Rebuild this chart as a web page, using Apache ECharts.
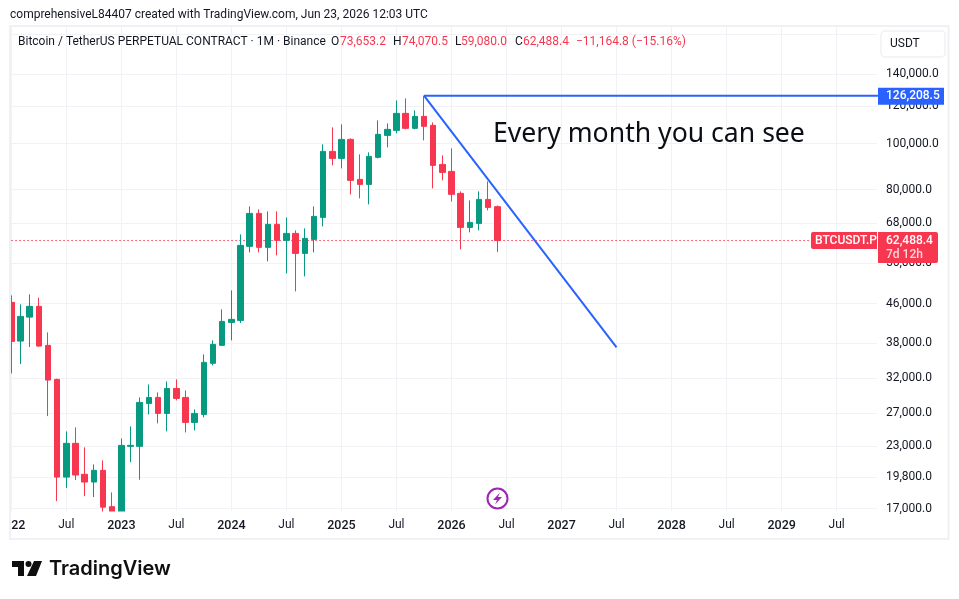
<!DOCTYPE html>
<html>
<head>
<meta charset="utf-8">
<script src="https://cdn.jsdelivr.net/npm/echarts@6/dist/echarts.min.js"></script>
<style>html,body{margin:0;padding:0;background:#fff}#c{width:959px;height:599px}</style>
</head>
<body>
<div id="c"></div>
<script>
// month labels (index = months since Jan 2022)
const axisYears = ['2022','2023','2024','2025','2026','2027','2028','2029'];
const xTicks = [0,6,12,18,24,30,36,42,48,54,60,66,72,78,84,90];
const priceTicks = [17000,19800,23000,27000,32000,38000,46000,56000,68000,80000,100000,120000,140000,170000];
const priceLabels = [17000,19800,23000,27000,32000,38000,46000,56000,68000,80000,100000,120000,140000];
// [month index, open, close, low, high]
const candles = [
[0,46290,38300,32790,47880],[1,38360,43240,34310,45840],[2,43090,45400,37260,48120],[3,45400,37440,37300,47350],
[4,37570,31740,26650,40010],[5,31850,19820,17640,31960],[6,19820,23350,18790,24740],[7,23350,20020,19540,25230],
[8,20090,19350,18070,22900],[9,19350,20480,17990,21080],[10,20480,17130,16460,21490],[11,17170,16700,16380,18400],
[12,16700,23120,16540,23910],[13,23010,23120,21310,25350],[14,23010,28480,19570,29180],[15,28340,29180,26870,31080],
[16,29180,27000,25720,29900],[17,27000,30480,24740,31540],[18,30480,29040,28760,31850],[19,29180,25850,24620,30190],
[20,25850,27000,24860,27530],[21,26870,34590,26490,35960],[22,34430,37750,34090,38490],[23,37570,42200,37470,44740],
[24,42000,42620,38490,49060],[25,42410,61040,41860,64390],[26,60750,71290,58990,73760],[27,71290,60450,58990,72700],
[28,60450,67590,56470,71990],[29,67590,62540,58140,71990],[30,62540,64700,53280,69920],[31,64700,58710,48820,65650],
[32,58710,63150,52510,66290],[33,62840,70260,58990,73760],[34,69920,96330,66930,99670],[35,96330,93110,90000,108240],
[36,93110,102110,88700,109830],[37,102110,83680,78190,102610],[38,84090,82070,76690,94940],[39,82070,94020,74480,95860],
[40,93570,104620,93110,111980],[41,104110,107200,98230,110360],[42,106670,115850,105130,123390],[43,115850,107720,107200,124600],
[44,107720,114180,107200,117550],[45,114180,108770,101620,126208.5],[46,109300,90000,80490,110900],[47,90440,86990,83680,94480],
[48,87410,78190,75570,97750],[49,78570,66610,59870,79330],[50,66610,68240,65020,75940],[51,67910,76310,65650,79330],
[52,76310,73400,72340,83270],[53,73653.2,62488.4,59080,74070.5]
];
const lastClose = 62488.4;
const athPrice = 126208.5;
const trendLine = [[45,126208.5],[66,37200]];
const athLine = [[45,126208.5],[94.5,126208.5]];
const pricePoint = [[0,62488.4],[87,62488.4]];

const RED='#f7374f', GREEN='#089981', BLUE='#2962ff', GRID='#f1f2f5', INK='#131722';
const FONT='Roboto, "Noto Sans", sans-serif';
const FS=12;
const fmt=v=>v.toLocaleString('en-US',{minimumFractionDigits:1,maximumFractionDigits:1});

const chart = echarts.init(document.getElementById('c'), null, {renderer:'canvas', width:959, height:599});

chart.setOption({
  animation:false,
  backgroundColor:'#fff',
  textStyle:{fontFamily:FONT},
  grid:{left:11.3, top:26.4, width:865.7, height:485, containLabel:false},
  xAxis:{
    type:'value', min:0, max:94.4, scale:true,
    axisLine:{show:false},
    axisTick:{show:false, customValues:xTicks},
    splitLine:{show:true, lineStyle:{color:GRID,width:1}},
    axisLabel:{
      customValues:xTicks, margin:8, color:INK, fontSize:FS, fontFamily:FONT, hideOverlap:false,
      showMinLabel:true, showMaxLabel:true,
      formatter:(v)=>{
        if(v===0) return '{first|22}';
        if(v%12===0) return '{year|'+axisYears[v/12]+'}';
        return '{mon|Jul}';
      },
      rich:{
        first:{fontWeight:500,fontSize:12.5,color:INK,fontFamily:FONT,padding:[0,0,0,14]},
        year:{fontWeight:500,fontSize:12.5,color:INK,fontFamily:FONT},
        mon:{fontSize:FS,color:INK,fontFamily:FONT}
      }
    }
  },
  yAxis:{
    type:'log', logBase:10, min:16780, max:176700, position:'right',
    axisLine:{show:false},
    axisTick:{show:false, customValues:priceTicks},
    splitLine:{show:true, lineStyle:{color:GRID,width:1}},
    minorSplitLine:{show:false},
    axisLabel:{customValues:priceLabels, margin:9, color:INK, fontSize:FS, fontFamily:FONT, align:'left',
      showMinLabel:true, showMaxLabel:true, formatter:v=>fmt(v)}
  },
  series:[
    {type:'candlestick', data:candles, barWidth:6, clip:true, z:3,
      itemStyle:{color:GREEN,color0:RED,borderColor:GREEN,borderColor0:RED,borderWidth:1}},
    {type:'line', data:pricePoint, symbol:'none', z:2, silent:true,
      lineStyle:{color:RED,width:1,type:[1.5,2.5]}},
    {type:'line', data:trendLine, symbol:'none', z:4, silent:true, lineStyle:{color:BLUE,width:2}},
    {type:'line', data:athLine, symbol:'none', z:4, silent:true, lineStyle:{color:BLUE,width:2}}
  ]
});

const yPrice = chart.convertToPixel({yAxisIndex:0}, lastClose);
const yAth = chart.convertToPixel({yAxisIndex:0}, athPrice);
const T=(x,y,s,o)=>({type:'text',z:100,x,y,style:Object.assign({text:s,fill:INK,fontFamily:FONT,fontSize:FS,textVerticalAlign:'middle',textBaseline:'middle'},o||{})});
const R=(x,y,w,h,fill,o)=>({type:'rect',z:100,shape:Object.assign({x,y,width:w,height:h},o||{}),style:{fill}});
chart.setOption({graphic:{elements:[
  // masks: the pane clips candles at its edges
  {type:'rect',z:80,shape:{x:0,y:27,width:10,height:485},style:{fill:'#fff'}},
  {type:'rect',z:80,shape:{x:12,y:511.4,width:864,height:6},style:{fill:'#fff'}},
  {type:'rect',z:90,shape:{x:10,y:26,width:938.5,height:513},style:{fill:'none',stroke:'#f0f1f4',lineWidth:2}},
  T(10,15,'comprehensiveL84407 created with TradingView.com, Jun 23, 2026 12:03 UTC'),
  T(18,42,'Bitcoin / TetherUS PERPETUAL CONTRACT · 1M · Binance'),
  T(331,42,'O'),T(340,42,'73,653.2',{fill:RED}),
  T(393,42,'H'),T(402,42,'74,070.5',{fill:RED}),
  T(455,42,'L'),T(461,42,'59,080.0',{fill:RED}),
  T(515,42,'C'),T(523,42,'62,488.4',{fill:RED}),
  T(576,42,'−11,164.8 (−15.16%)',{fill:RED}),
  T(493,134,'Every month you can see',{fontFamily:'"Noto Sans", sans-serif',fontSize:26.6,fill:'#0b0e14'}),
  // USDT button
  {type:'rect',z:100,shape:{x:881,y:31,width:64,height:26,r:4},style:{fill:'#fff',stroke:'#f0f1f4',lineWidth:1.5}},
  T(890,44,'USDT'),
  // ATH tag
  R(878,yAth-8,66,17,BLUE),
  T(886,yAth+0.5,fmt(athPrice),{fill:'#fff',fontWeight:500}),
  // last price tags
  {type:'rect',z:100,shape:{x:811,y:yPrice-8.5,width:66,height:17,r:[2,0,0,2]},style:{fill:RED}},
  T(815,yPrice,'BTCUSDT.P',{fill:'#fff',fontWeight:500}),
  {type:'rect',z:100,shape:{x:878,y:yPrice-8.5,width:60,height:31,r:[0,2,2,0]},style:{fill:RED}},
  T(886,yPrice,fmt(lastClose),{fill:'#fff',fontWeight:500}),
  T(886,yPrice+14,'7d 12h',{fill:'#ffd5da',fontWeight:500}),
  // lightning badge
  {type:'circle',z:100,shape:{cx:497.5,cy:498.5,r:10},style:{fill:'#fff',stroke:'#9c27b0',lineWidth:2}},
  {type:'polygon',z:101,shape:{points:[[500,492.5],[493,500],[497,500],[495,504.5],[502,497],[498,497]]},style:{fill:'#9c27b0'}},
  // logo
  {type:'polygon',z:100,shape:{points:[[12,561],[24,561],[24,576],[18,576],[18,567],[12,567]]},style:{fill:'#0f0f0f'}},
  {type:'circle',z:100,shape:{cx:28.5,cy:564,r:3},style:{fill:'#0f0f0f'}},
  {type:'polygon',z:100,shape:{points:[[34,561],[42,561],[36,576],[27,576]]},style:{fill:'#0f0f0f'}},
  T(49,569,'TradingView',{fontFamily:'Inter, "Noto Sans", sans-serif',fontWeight:600,fontSize:20,fill:'#0f0f0f'})
]}});
</script>
</body>
</html>
